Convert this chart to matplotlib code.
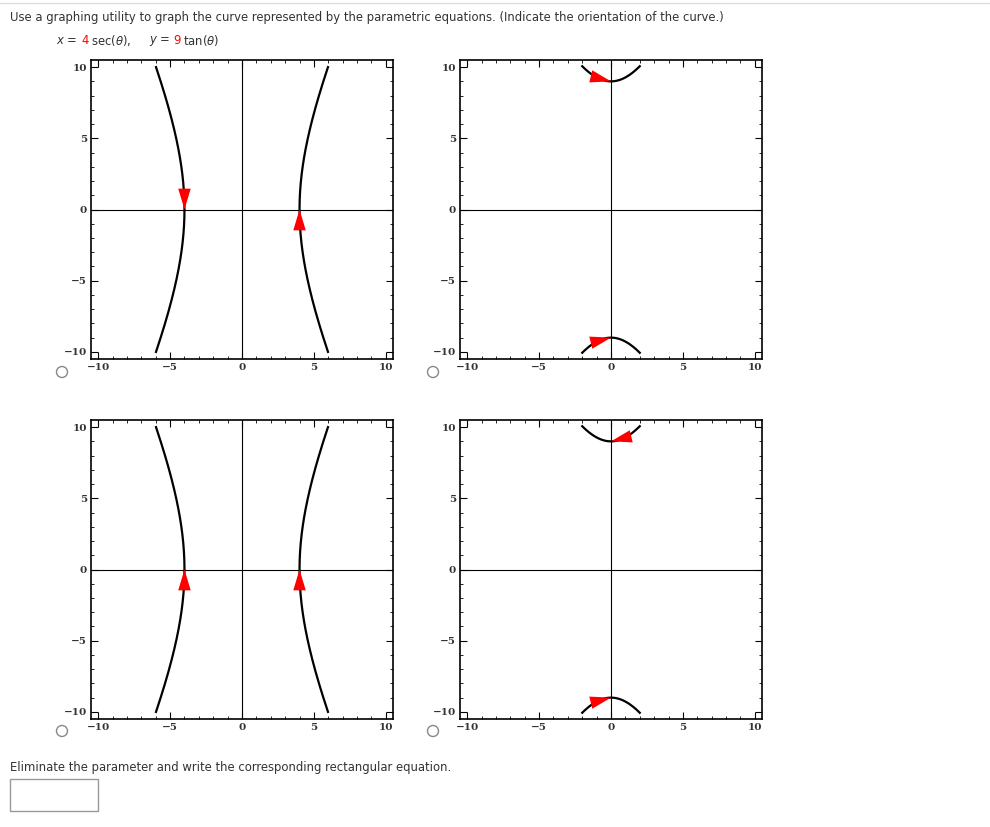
import numpy as np
import matplotlib.pyplot as plt
from matplotlib.patches import Circle, Rectangle

W, H = 990, 827
fig = plt.figure(figsize=(W/100, H/100), dpi=100)

ticks = [-10, -5, 0, 5, 10]
tick_labels = ['\u221210', '\u22125', '0', '5', '10']
# panel: (kind, arrows) ; arrows: list of (tip_x, tip_y, dir_x, dir_y)
panels = [
    ('h', [(-4.0, 0.0, 0, -1), (4.0, 0.0, 0, 1)]),
    ('v', [(0.0, 9.0, 1, -0.25), (0.0, -9.0, 1, 0.25)]),
    ('h', [(-4.0, 0.0, 0, 1), (4.0, 0.0, 0, 1)]),
    ('v', [(0.0, 9.0, -1, -0.25), (0.0, -9.0, 1, 0.25)]),
]
boxes = [(91, 60), (460, 60), (91, 420), (460, 420)]
pw, ph = 302, 299

for (kind, arrows), (px, py) in zip(panels, boxes):
    ax = fig.add_axes([px/W, 1-(py+ph)/H, pw/W, ph/H])
    ax.set_xlim(-10.5, 10.5); ax.set_ylim(-10.5, 10.5)
    ax.axhline(0, color='black', lw=0.8); ax.axvline(0, color='black', lw=0.8)
    if kind == 'h':
        y = np.linspace(-10, 10, 200)
        x = 4*np.sqrt(1+(y/9)**2)
        ax.plot(x, y, color='black', lw=1.6); ax.plot(-x, y, color='black', lw=1.6)
        L = 1.0
    else:
        x = np.linspace(-2.0, 2.0, 100)
        y = 9*np.sqrt(1+(x/4)**2)
        ax.plot(x, y, color='black', lw=1.6); ax.plot(x, -y, color='black', lw=1.6)
        L = 1.2
    for (tx, ty, dx, dy) in arrows:
        n = np.hypot(dx, dy)
        ax.annotate('', xy=(tx, ty), xytext=(tx - L*dx/n, ty - L*dy/n),
                    arrowprops=dict(arrowstyle='-|>,head_length=1.0,head_width=0.3',
                                    color='red', lw=0, mutation_scale=15,
                                    shrinkA=0, shrinkB=0))
    ax.set_xticks(ticks); ax.set_yticks(ticks)
    ax.set_xticklabels(tick_labels); ax.set_yticklabels(tick_labels)
    ax.set_xticks(np.arange(-10, 11, 1), minor=True); ax.set_yticks(np.arange(-10, 11, 1), minor=True)
    ax.tick_params(which='both', direction='in', top=True, right=True, labelsize=7.5, pad=3)
    ax.tick_params(which='major', length=5); ax.tick_params(which='minor', length=2.5)
    for lab in ax.get_xticklabels()+ax.get_yticklabels():
        lab.set_family('DejaVu Serif'); lab.set_fontweight('bold'); lab.set_color('#333333')
    for s in ax.spines.values(): s.set_linewidth(1.2)

ov = fig.add_axes([0, 0, 1, 1], facecolor='none'); ov.set_xlim(0, W); ov.set_ylim(H, 0); ov.axis('off')
ov.plot([0, W], [3, 3], color='#dddddd', lw=1)
fs = 8.4
ov.text(10, 17, 'Use a graphing utility to graph the curve represented by the parametric equations. (Indicate the orientation of the curve.)',
        fontsize=fs, color='#333333', va='center')
ov.text(56, 41, r'$x$ =', fontsize=fs, va='center', color='#333333')
ov.text(81, 41, '4', fontsize=fs, va='center', color='red')
ov.text(91, 41, r'sec($\theta$),', fontsize=fs, va='center', color='#333333')
ov.text(149, 41, r'$y$ =', fontsize=fs, va='center', color='#333333')
ov.text(173, 41, '9', fontsize=fs, va='center', color='red')
ov.text(183, 41, r'tan($\theta$)', fontsize=fs, va='center', color='#333333')
for cx, cy in [(62, 372), (433, 372), (62, 731), (433, 731)]:
    ov.add_patch(Circle((cx, cy), 5.5, fill=False, ec='#888888', lw=1))
ov.text(10, 768, 'Eliminate the parameter and write the corresponding rectangular equation.',
        fontsize=fs, va='center', color='#333333')
ov.add_patch(Rectangle((10, 779), 88, 32, fill=False, ec='#999999', lw=1))
fig.savefig('out.png', dpi=100)
